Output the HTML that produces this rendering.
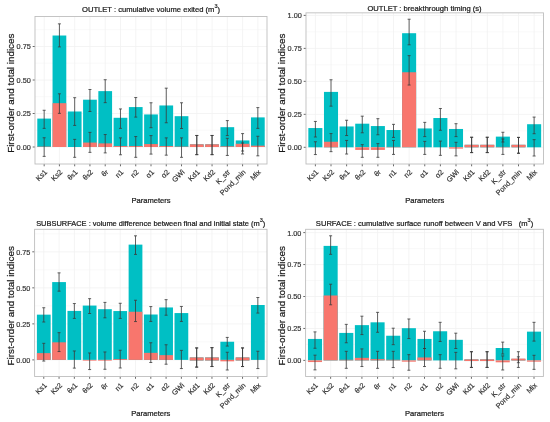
<!DOCTYPE html>
<html><head><meta charset="utf-8"><style>
html,body{margin:0;padding:0;background:#fff;}
svg{display:block;will-change:transform;}
text{font-family:"Liberation Sans",sans-serif;fill:#4d4d4d;stroke-linejoin:round;}
.tk{font-size:7.3px;fill:#333;stroke:#333;stroke-width:0.18px;}
.ti{font-size:7.6px;fill:#1a1a1a;stroke:#1a1a1a;stroke-width:0.22px;}
.sup{font-size:5.5px;}
.xt{font-size:7.6px;fill:#1a1a1a;stroke:#1a1a1a;stroke-width:0.22px;}
.yt{font-size:9.85px;fill:#1a1a1a;stroke:#1a1a1a;stroke-width:0.22px;}
</style></head><body>
<svg width="550" height="422" viewBox="0 0 550 422">
<rect width="550" height="422" fill="#fff"/>
<line x1="35" x2="267" y1="130.25" y2="130.25" stroke="#f5f5f5" stroke-width="0.6"/><line x1="35" x2="267" y1="96.75" y2="96.75" stroke="#f5f5f5" stroke-width="0.6"/><line x1="35" x2="267" y1="63.25" y2="63.25" stroke="#f5f5f5" stroke-width="0.6"/><line x1="35" x2="267" y1="29.75" y2="29.75" stroke="#f5f5f5" stroke-width="0.6"/><line x1="35" x2="267" y1="147" y2="147" stroke="#f1f1f1" stroke-width="0.8"/><line x1="35" x2="267" y1="113.5" y2="113.5" stroke="#f1f1f1" stroke-width="0.8"/><line x1="35" x2="267" y1="80" y2="80" stroke="#f1f1f1" stroke-width="0.8"/><line x1="35" x2="267" y1="46.5" y2="46.5" stroke="#f1f1f1" stroke-width="0.8"/><line x1="44.16" x2="44.16" y1="16.5" y2="164" stroke="#f1f1f1" stroke-width="0.8"/><line x1="59.42" x2="59.42" y1="16.5" y2="164" stroke="#f1f1f1" stroke-width="0.8"/><line x1="74.68" x2="74.68" y1="16.5" y2="164" stroke="#f1f1f1" stroke-width="0.8"/><line x1="89.95" x2="89.95" y1="16.5" y2="164" stroke="#f1f1f1" stroke-width="0.8"/><line x1="105.21" x2="105.21" y1="16.5" y2="164" stroke="#f1f1f1" stroke-width="0.8"/><line x1="120.47" x2="120.47" y1="16.5" y2="164" stroke="#f1f1f1" stroke-width="0.8"/><line x1="135.74" x2="135.74" y1="16.5" y2="164" stroke="#f1f1f1" stroke-width="0.8"/><line x1="151" x2="151" y1="16.5" y2="164" stroke="#f1f1f1" stroke-width="0.8"/><line x1="166.26" x2="166.26" y1="16.5" y2="164" stroke="#f1f1f1" stroke-width="0.8"/><line x1="181.53" x2="181.53" y1="16.5" y2="164" stroke="#f1f1f1" stroke-width="0.8"/><line x1="196.79" x2="196.79" y1="16.5" y2="164" stroke="#f1f1f1" stroke-width="0.8"/><line x1="212.05" x2="212.05" y1="16.5" y2="164" stroke="#f1f1f1" stroke-width="0.8"/><line x1="227.32" x2="227.32" y1="16.5" y2="164" stroke="#f1f1f1" stroke-width="0.8"/><line x1="242.58" x2="242.58" y1="16.5" y2="164" stroke="#f1f1f1" stroke-width="0.8"/><line x1="257.84" x2="257.84" y1="16.5" y2="164" stroke="#f1f1f1" stroke-width="0.8"/><rect x="37.29" y="118.59" width="13.74" height="28.41" fill="#00BFC4"/><rect x="52.55" y="35.51" width="13.74" height="111.49" fill="#00BFC4"/><rect x="67.82" y="111.49" width="13.74" height="35.51" fill="#00BFC4"/><rect x="83.08" y="99.7" width="13.74" height="47.3" fill="#00BFC4"/><rect x="98.34" y="91.12" width="13.74" height="55.88" fill="#00BFC4"/><rect x="113.61" y="117.79" width="13.74" height="29.21" fill="#00BFC4"/><rect x="128.87" y="107.07" width="13.74" height="39.93" fill="#00BFC4"/><rect x="144.13" y="114.44" width="13.74" height="32.56" fill="#00BFC4"/><rect x="159.39" y="105.46" width="13.74" height="41.54" fill="#00BFC4"/><rect x="174.66" y="116.18" width="13.74" height="30.82" fill="#00BFC4"/><rect x="189.92" y="144.32" width="13.74" height="2.68" fill="#00BFC4"/><rect x="205.18" y="144.32" width="13.74" height="2.68" fill="#00BFC4"/><rect x="220.45" y="127.17" width="13.74" height="19.83" fill="#00BFC4"/><rect x="235.71" y="140.43" width="13.74" height="6.57" fill="#00BFC4"/><rect x="250.97" y="117.39" width="13.74" height="29.61" fill="#00BFC4"/><rect x="37.29" y="146.6" width="13.74" height="0.4" fill="#F8766D"/><rect x="52.55" y="103.18" width="13.74" height="43.82" fill="#F8766D"/><rect x="83.08" y="142.58" width="13.74" height="4.42" fill="#F8766D"/><rect x="98.34" y="143.38" width="13.74" height="3.62" fill="#F8766D"/><rect x="113.61" y="146.06" width="13.74" height="0.94" fill="#F8766D"/><rect x="128.87" y="146.06" width="13.74" height="0.94" fill="#F8766D"/><rect x="144.13" y="144.05" width="13.74" height="2.95" fill="#F8766D"/><rect x="159.39" y="146.06" width="13.74" height="0.94" fill="#F8766D"/><rect x="174.66" y="146.6" width="13.74" height="0.4" fill="#F8766D"/><rect x="189.92" y="144.32" width="13.74" height="2.68" fill="#F8766D"/><rect x="205.18" y="144.32" width="13.74" height="2.68" fill="#F8766D"/><rect x="220.45" y="146.33" width="13.74" height="0.67" fill="#F8766D"/><rect x="235.71" y="143.78" width="13.74" height="3.22" fill="#F8766D"/><rect x="250.97" y="145.66" width="13.74" height="1.34" fill="#F8766D"/><line x1="32.7" x2="35" y1="147" y2="147" stroke="#444" stroke-width="0.8"/><line x1="32.7" x2="35" y1="113.5" y2="113.5" stroke="#444" stroke-width="0.8"/><line x1="32.7" x2="35" y1="80" y2="80" stroke="#444" stroke-width="0.8"/><line x1="32.7" x2="35" y1="46.5" y2="46.5" stroke="#444" stroke-width="0.8"/><line x1="44.16" x2="44.16" y1="164" y2="166.3" stroke="#444" stroke-width="0.8"/><line x1="59.42" x2="59.42" y1="164" y2="166.3" stroke="#444" stroke-width="0.8"/><line x1="74.68" x2="74.68" y1="164" y2="166.3" stroke="#444" stroke-width="0.8"/><line x1="89.95" x2="89.95" y1="164" y2="166.3" stroke="#444" stroke-width="0.8"/><line x1="105.21" x2="105.21" y1="164" y2="166.3" stroke="#444" stroke-width="0.8"/><line x1="120.47" x2="120.47" y1="164" y2="166.3" stroke="#444" stroke-width="0.8"/><line x1="135.74" x2="135.74" y1="164" y2="166.3" stroke="#444" stroke-width="0.8"/><line x1="151" x2="151" y1="164" y2="166.3" stroke="#444" stroke-width="0.8"/><line x1="166.26" x2="166.26" y1="164" y2="166.3" stroke="#444" stroke-width="0.8"/><line x1="181.53" x2="181.53" y1="164" y2="166.3" stroke="#444" stroke-width="0.8"/><line x1="196.79" x2="196.79" y1="164" y2="166.3" stroke="#444" stroke-width="0.8"/><line x1="212.05" x2="212.05" y1="164" y2="166.3" stroke="#444" stroke-width="0.8"/><line x1="227.32" x2="227.32" y1="164" y2="166.3" stroke="#444" stroke-width="0.8"/><line x1="242.58" x2="242.58" y1="164" y2="166.3" stroke="#444" stroke-width="0.8"/><line x1="257.84" x2="257.84" y1="164" y2="166.3" stroke="#444" stroke-width="0.8"/><g stroke="#3a3a3a" stroke-width="0.8"><path d="M42.66 110.28H45.66M44.16 110.28V128.37M42.66 128.37H45.66"/><path d="M42.66 137.75H45.66M44.16 137.75V156.38M42.66 156.38H45.66"/><path d="M57.92 23.85H60.92M59.42 23.85V46.9M57.92 46.9H60.92"/><path d="M57.92 93.8H60.92M59.42 93.8V113.37M57.92 113.37H60.92"/><path d="M73.18 97.69H76.18M74.68 97.69V125.43M73.18 125.43H76.18"/><path d="M73.18 139.36H76.18M74.68 139.36V157.32M73.18 157.32H76.18"/><path d="M88.45 89.51H91.45M89.95 89.51V111.49M88.45 111.49H91.45"/><path d="M88.45 132.39H91.45M89.95 132.39V152.36M88.45 152.36H91.45"/><path d="M103.71 79.73H106.71M105.21 79.73V102.65M103.71 102.65H106.71"/><path d="M103.71 134.54H106.71M105.21 134.54V152.9M103.71 152.9H106.71"/><path d="M118.97 108.94H121.97M120.47 108.94V128.37M118.97 128.37H121.97"/><path d="M118.97 137.89H121.97M120.47 137.89V154.77M118.97 154.77H121.97"/><path d="M134.24 97.55H137.24M135.74 97.55V117.12M134.24 117.12H137.24"/><path d="M134.24 136.55H137.24M135.74 136.55V157.32M134.24 157.32H137.24"/><path d="M149.5 102.78H152.5M151 102.78V127.7M149.5 127.7H152.5"/><path d="M149.5 135.61H152.5M151 135.61V154.1M149.5 154.1H152.5"/><path d="M164.76 88.17H167.76M166.26 88.17V122.75M164.76 122.75H167.76"/><path d="M164.76 137.89H167.76M166.26 137.89V155.17M164.76 155.17H167.76"/><path d="M180.03 102.78H183.03M181.53 102.78V128.51M180.03 128.51H183.03"/><path d="M180.03 137.89H183.03M181.53 137.89V157.32M180.03 157.32H183.03"/><path d="M195.29 135.48H198.29M196.79 135.48V154.64M195.29 154.64H198.29"/><path d="M195.29 135.48H198.29M196.79 135.48V154.64M195.29 154.64H198.29"/><path d="M210.55 135.48H213.55M212.05 135.48V154.64M210.55 154.64H213.55"/><path d="M210.55 135.48H213.55M212.05 135.48V154.64M210.55 154.64H213.55"/><path d="M225.82 120.6H228.82M227.32 120.6V135.61M225.82 135.61H228.82"/><path d="M225.82 138.29H228.82M227.32 138.29V155.44M225.82 155.44H228.82"/><path d="M241.08 133.6H244.08M242.58 133.6V151.02M241.08 151.02H244.08"/><path d="M241.08 142.98H244.08M242.58 142.98V153.97M241.08 153.97H244.08"/><path d="M256.34 107.6H259.34M257.84 107.6V128.37M256.34 128.37H259.34"/><path d="M256.34 136.28H259.34M257.84 136.28V155.84M256.34 155.84H259.34"/></g><rect x="35" y="16.5" width="232" height="147.5" fill="none" stroke="#bebebe" stroke-width="0.9"/><text class="tk" x="30.8" y="149.9" text-anchor="end">0.00</text><text class="tk" x="30.8" y="116.4" text-anchor="end">0.25</text><text class="tk" x="30.8" y="82.9" text-anchor="end">0.50</text><text class="tk" x="30.8" y="49.4" text-anchor="end">0.75</text><text class="tk" text-anchor="end" transform="translate(47.66 172.6) rotate(-45)">Ks1</text><text class="tk" text-anchor="end" transform="translate(62.92 172.6) rotate(-45)">Ks2</text><text class="tk" text-anchor="end" transform="translate(78.18 172.6) rotate(-45)">θ<tspan style="font-size:6.2px">s</tspan>1</text><text class="tk" text-anchor="end" transform="translate(93.45 172.6) rotate(-45)">θ<tspan style="font-size:6.2px">s</tspan>2</text><text class="tk" text-anchor="end" transform="translate(108.71 172.6) rotate(-45)">θ<tspan style="font-size:6.6px">r</tspan></text><text class="tk" text-anchor="end" transform="translate(123.97 172.6) rotate(-45)">n1</text><text class="tk" text-anchor="end" transform="translate(139.24 172.6) rotate(-45)">n2</text><text class="tk" text-anchor="end" transform="translate(154.5 172.6) rotate(-45)">α1</text><text class="tk" text-anchor="end" transform="translate(169.76 172.6) rotate(-45)">α2</text><text class="tk" text-anchor="end" transform="translate(185.03 172.6) rotate(-45)">GWi</text><text class="tk" text-anchor="end" transform="translate(200.29 172.6) rotate(-45)">Kd1</text><text class="tk" text-anchor="end" transform="translate(215.55 172.6) rotate(-45)">Kd2</text><text class="tk" text-anchor="end" transform="translate(230.82 172.6) rotate(-45)">K_str</text><text class="tk" text-anchor="end" transform="translate(246.08 172.6) rotate(-45)">Pond_min</text><text class="tk" text-anchor="end" transform="translate(261.34 172.6) rotate(-45)">Mix</text><text class="ti" x="151" y="12.1" text-anchor="middle" style="font-size:7.6px">OUTLET : cumulative volume exited (m<tspan class="sup" dy="-4">3</tspan><tspan dy="4">)</tspan></text><text class="xt" x="151" y="203.3" text-anchor="middle">Parameters</text><text class="yt" text-anchor="middle" transform="translate(13.8 93.2) rotate(-90)">First-order and total indices</text><line x1="306" x2="543.5" y1="130.81" y2="130.81" stroke="#f5f5f5" stroke-width="0.6"/><line x1="306" x2="543.5" y1="97.84" y2="97.84" stroke="#f5f5f5" stroke-width="0.6"/><line x1="306" x2="543.5" y1="64.86" y2="64.86" stroke="#f5f5f5" stroke-width="0.6"/><line x1="306" x2="543.5" y1="31.89" y2="31.89" stroke="#f5f5f5" stroke-width="0.6"/><line x1="306" x2="543.5" y1="147.3" y2="147.3" stroke="#f1f1f1" stroke-width="0.8"/><line x1="306" x2="543.5" y1="114.33" y2="114.33" stroke="#f1f1f1" stroke-width="0.8"/><line x1="306" x2="543.5" y1="81.35" y2="81.35" stroke="#f1f1f1" stroke-width="0.8"/><line x1="306" x2="543.5" y1="48.38" y2="48.38" stroke="#f1f1f1" stroke-width="0.8"/><line x1="306" x2="543.5" y1="15.4" y2="15.4" stroke="#f1f1f1" stroke-width="0.8"/><line x1="315.38" x2="315.38" y1="12.85" y2="164" stroke="#f1f1f1" stroke-width="0.8"/><line x1="331" x2="331" y1="12.85" y2="164" stroke="#f1f1f1" stroke-width="0.8"/><line x1="346.62" x2="346.62" y1="12.85" y2="164" stroke="#f1f1f1" stroke-width="0.8"/><line x1="362.25" x2="362.25" y1="12.85" y2="164" stroke="#f1f1f1" stroke-width="0.8"/><line x1="377.88" x2="377.88" y1="12.85" y2="164" stroke="#f1f1f1" stroke-width="0.8"/><line x1="393.5" x2="393.5" y1="12.85" y2="164" stroke="#f1f1f1" stroke-width="0.8"/><line x1="409.12" x2="409.12" y1="12.85" y2="164" stroke="#f1f1f1" stroke-width="0.8"/><line x1="424.75" x2="424.75" y1="12.85" y2="164" stroke="#f1f1f1" stroke-width="0.8"/><line x1="440.38" x2="440.38" y1="12.85" y2="164" stroke="#f1f1f1" stroke-width="0.8"/><line x1="456" x2="456" y1="12.85" y2="164" stroke="#f1f1f1" stroke-width="0.8"/><line x1="471.62" x2="471.62" y1="12.85" y2="164" stroke="#f1f1f1" stroke-width="0.8"/><line x1="487.25" x2="487.25" y1="12.85" y2="164" stroke="#f1f1f1" stroke-width="0.8"/><line x1="502.88" x2="502.88" y1="12.85" y2="164" stroke="#f1f1f1" stroke-width="0.8"/><line x1="518.5" x2="518.5" y1="12.85" y2="164" stroke="#f1f1f1" stroke-width="0.8"/><line x1="534.12" x2="534.12" y1="12.85" y2="164" stroke="#f1f1f1" stroke-width="0.8"/><rect x="308.34" y="128.04" width="14.06" height="19.26" fill="#00BFC4"/><rect x="323.97" y="91.9" width="14.06" height="55.4" fill="#00BFC4"/><rect x="339.59" y="126.46" width="14.06" height="20.84" fill="#00BFC4"/><rect x="355.22" y="123.69" width="14.06" height="23.61" fill="#00BFC4"/><rect x="370.84" y="126.06" width="14.06" height="21.24" fill="#00BFC4"/><rect x="386.47" y="130.02" width="14.06" height="17.28" fill="#00BFC4"/><rect x="402.09" y="33.21" width="14.06" height="114.09" fill="#00BFC4"/><rect x="417.72" y="128.44" width="14.06" height="18.86" fill="#00BFC4"/><rect x="433.34" y="118.02" width="14.06" height="29.28" fill="#00BFC4"/><rect x="448.97" y="128.97" width="14.06" height="18.33" fill="#00BFC4"/><rect x="464.59" y="144.79" width="14.06" height="2.51" fill="#00BFC4"/><rect x="480.22" y="144.79" width="14.06" height="2.51" fill="#00BFC4"/><rect x="495.84" y="136.62" width="14.06" height="10.68" fill="#00BFC4"/><rect x="511.47" y="144.79" width="14.06" height="2.51" fill="#00BFC4"/><rect x="527.09" y="124.22" width="14.06" height="23.08" fill="#00BFC4"/><rect x="323.97" y="141.76" width="14.06" height="5.54" fill="#F8766D"/><rect x="355.22" y="147.3" width="14.06" height="2.64" fill="#F8766D"/><rect x="370.84" y="147.3" width="14.06" height="2.64" fill="#F8766D"/><rect x="386.47" y="146.9" width="14.06" height="0.4" fill="#F8766D"/><rect x="402.09" y="72.25" width="14.06" height="75.05" fill="#F8766D"/><rect x="448.97" y="147.3" width="14.06" height="1.32" fill="#F8766D"/><rect x="464.59" y="144.79" width="14.06" height="2.51" fill="#F8766D"/><rect x="480.22" y="144.79" width="14.06" height="2.51" fill="#F8766D"/><rect x="495.84" y="146.9" width="14.06" height="0.4" fill="#F8766D"/><rect x="511.47" y="144.79" width="14.06" height="2.51" fill="#F8766D"/><line x1="303.7" x2="306" y1="147.3" y2="147.3" stroke="#444" stroke-width="0.8"/><line x1="303.7" x2="306" y1="114.33" y2="114.33" stroke="#444" stroke-width="0.8"/><line x1="303.7" x2="306" y1="81.35" y2="81.35" stroke="#444" stroke-width="0.8"/><line x1="303.7" x2="306" y1="48.38" y2="48.38" stroke="#444" stroke-width="0.8"/><line x1="303.7" x2="306" y1="15.4" y2="15.4" stroke="#444" stroke-width="0.8"/><line x1="315.38" x2="315.38" y1="164" y2="166.3" stroke="#444" stroke-width="0.8"/><line x1="331" x2="331" y1="164" y2="166.3" stroke="#444" stroke-width="0.8"/><line x1="346.62" x2="346.62" y1="164" y2="166.3" stroke="#444" stroke-width="0.8"/><line x1="362.25" x2="362.25" y1="164" y2="166.3" stroke="#444" stroke-width="0.8"/><line x1="377.88" x2="377.88" y1="164" y2="166.3" stroke="#444" stroke-width="0.8"/><line x1="393.5" x2="393.5" y1="164" y2="166.3" stroke="#444" stroke-width="0.8"/><line x1="409.12" x2="409.12" y1="164" y2="166.3" stroke="#444" stroke-width="0.8"/><line x1="424.75" x2="424.75" y1="164" y2="166.3" stroke="#444" stroke-width="0.8"/><line x1="440.38" x2="440.38" y1="164" y2="166.3" stroke="#444" stroke-width="0.8"/><line x1="456" x2="456" y1="164" y2="166.3" stroke="#444" stroke-width="0.8"/><line x1="471.62" x2="471.62" y1="164" y2="166.3" stroke="#444" stroke-width="0.8"/><line x1="487.25" x2="487.25" y1="164" y2="166.3" stroke="#444" stroke-width="0.8"/><line x1="502.88" x2="502.88" y1="164" y2="166.3" stroke="#444" stroke-width="0.8"/><line x1="518.5" x2="518.5" y1="164" y2="166.3" stroke="#444" stroke-width="0.8"/><line x1="534.12" x2="534.12" y1="164" y2="166.3" stroke="#444" stroke-width="0.8"/><g stroke="#3a3a3a" stroke-width="0.8"><path d="M313.88 121.45H316.88M315.38 121.45V137.01M313.88 137.01H316.88"/><path d="M313.88 141.76H316.88M315.38 141.76V154.55M313.88 154.55H316.88"/><path d="M329.5 79.77H332.5M331 79.77V106.15M329.5 106.15H332.5"/><path d="M329.5 133.58H332.5M331 133.58V151.65M329.5 151.65H332.5"/><path d="M345.12 120.26H348.12M346.62 120.26V135.56M345.12 135.56H348.12"/><path d="M345.12 140.44H348.12M346.62 140.44V154.03M345.12 154.03H348.12"/><path d="M360.75 116.17H363.75M362.25 116.17V132.79M360.75 132.79H363.75"/><path d="M360.75 144.66H363.75M362.25 144.66V157.32M360.75 157.32H363.75"/><path d="M376.38 118.68H379.38M377.88 118.68V134.77M376.38 134.77H379.38"/><path d="M376.38 143.61H379.38M377.88 143.61V157.32M376.38 157.32H379.38"/><path d="M392 124.35H395M393.5 124.35V137.41M392 137.41H395"/><path d="M392 140.44H395M393.5 140.44V154.42M392 154.42H395"/><path d="M407.62 19.23H410.62M409.12 19.23V44.81M407.62 44.81H410.62"/><path d="M407.62 55.63H410.62M409.12 55.63V85.04M407.62 85.04H410.62"/><path d="M423.25 122.37H426.25M424.75 122.37V136.62M423.25 136.62H426.25"/><path d="M423.25 141.36H426.25M424.75 141.36V154.42M423.25 154.42H426.25"/><path d="M438.88 108.52H441.88M440.38 108.52V130.28M438.88 130.28H441.88"/><path d="M438.88 141.1H441.88M440.38 141.1V155.35M438.88 155.35H441.88"/><path d="M454.5 123.69H457.5M456 123.69V136.62M454.5 136.62H457.5"/><path d="M454.5 142.29H457.5M456 142.29V155.87M454.5 155.87H457.5"/><path d="M470.12 137.28H473.12M471.62 137.28V152.58M470.12 152.58H473.12"/><path d="M470.12 137.28H473.12M471.62 137.28V152.58M470.12 152.58H473.12"/><path d="M485.75 137.28H488.75M487.25 137.28V152.58M485.75 152.58H488.75"/><path d="M485.75 137.28H488.75M487.25 137.28V152.58M485.75 152.58H488.75"/><path d="M501.38 132.26H504.38M502.88 132.26V142.02M501.38 142.02H504.38"/><path d="M501.38 138.99H504.38M502.88 138.99V154.42M501.38 154.42H504.38"/><path d="M517 137.41H520M518.5 137.41V153.24M517 153.24H520"/><path d="M517 137.41H520M518.5 137.41V153.24M517 153.24H520"/><path d="M532.62 117.09H535.62M534.12 117.09V133.71M532.62 133.71H535.62"/><path d="M532.62 139.65H535.62M534.12 139.65V156.01M532.62 156.01H535.62"/></g><rect x="306" y="12.85" width="237.5" height="151.15" fill="none" stroke="#bebebe" stroke-width="0.9"/><text class="tk" x="301.8" y="150.2" text-anchor="end">0.00</text><text class="tk" x="301.8" y="117.23" text-anchor="end">0.25</text><text class="tk" x="301.8" y="84.25" text-anchor="end">0.50</text><text class="tk" x="301.8" y="51.27" text-anchor="end">0.75</text><text class="tk" x="301.8" y="18.3" text-anchor="end">1.00</text><text class="tk" text-anchor="end" transform="translate(318.88 172.6) rotate(-45)">Ks1</text><text class="tk" text-anchor="end" transform="translate(334.5 172.6) rotate(-45)">Ks2</text><text class="tk" text-anchor="end" transform="translate(350.12 172.6) rotate(-45)">θ<tspan style="font-size:6.2px">s</tspan>1</text><text class="tk" text-anchor="end" transform="translate(365.75 172.6) rotate(-45)">θ<tspan style="font-size:6.2px">s</tspan>2</text><text class="tk" text-anchor="end" transform="translate(381.38 172.6) rotate(-45)">θ<tspan style="font-size:6.6px">r</tspan></text><text class="tk" text-anchor="end" transform="translate(397 172.6) rotate(-45)">n1</text><text class="tk" text-anchor="end" transform="translate(412.62 172.6) rotate(-45)">n2</text><text class="tk" text-anchor="end" transform="translate(428.25 172.6) rotate(-45)">α1</text><text class="tk" text-anchor="end" transform="translate(443.88 172.6) rotate(-45)">α2</text><text class="tk" text-anchor="end" transform="translate(459.5 172.6) rotate(-45)">GWi</text><text class="tk" text-anchor="end" transform="translate(475.12 172.6) rotate(-45)">Kd1</text><text class="tk" text-anchor="end" transform="translate(490.75 172.6) rotate(-45)">Kd2</text><text class="tk" text-anchor="end" transform="translate(506.38 172.6) rotate(-45)">K_str</text><text class="tk" text-anchor="end" transform="translate(522 172.6) rotate(-45)">Pond_min</text><text class="tk" text-anchor="end" transform="translate(537.62 172.6) rotate(-45)">Mix</text><text class="ti" x="424.5" y="10.9" text-anchor="middle" style="font-size:7.6px">OUTLET : breakthrough timing (s)</text><text class="xt" x="424.75" y="203.3" text-anchor="middle">Parameters</text><text class="yt" text-anchor="middle" transform="translate(284.8 93.2) rotate(-90)">First-order and total indices</text><line x1="34.6" x2="267" y1="341.89" y2="341.89" stroke="#f5f5f5" stroke-width="0.6"/><line x1="34.6" x2="267" y1="305.86" y2="305.86" stroke="#f5f5f5" stroke-width="0.6"/><line x1="34.6" x2="267" y1="269.84" y2="269.84" stroke="#f5f5f5" stroke-width="0.6"/><line x1="34.6" x2="267" y1="233.81" y2="233.81" stroke="#f5f5f5" stroke-width="0.6"/><line x1="34.6" x2="267" y1="359.9" y2="359.9" stroke="#f1f1f1" stroke-width="0.8"/><line x1="34.6" x2="267" y1="323.88" y2="323.88" stroke="#f1f1f1" stroke-width="0.8"/><line x1="34.6" x2="267" y1="287.85" y2="287.85" stroke="#f1f1f1" stroke-width="0.8"/><line x1="34.6" x2="267" y1="251.82" y2="251.82" stroke="#f1f1f1" stroke-width="0.8"/><line x1="43.77" x2="43.77" y1="229.3" y2="376.5" stroke="#f1f1f1" stroke-width="0.8"/><line x1="59.06" x2="59.06" y1="229.3" y2="376.5" stroke="#f1f1f1" stroke-width="0.8"/><line x1="74.35" x2="74.35" y1="229.3" y2="376.5" stroke="#f1f1f1" stroke-width="0.8"/><line x1="89.64" x2="89.64" y1="229.3" y2="376.5" stroke="#f1f1f1" stroke-width="0.8"/><line x1="104.93" x2="104.93" y1="229.3" y2="376.5" stroke="#f1f1f1" stroke-width="0.8"/><line x1="120.22" x2="120.22" y1="229.3" y2="376.5" stroke="#f1f1f1" stroke-width="0.8"/><line x1="135.51" x2="135.51" y1="229.3" y2="376.5" stroke="#f1f1f1" stroke-width="0.8"/><line x1="150.8" x2="150.8" y1="229.3" y2="376.5" stroke="#f1f1f1" stroke-width="0.8"/><line x1="166.09" x2="166.09" y1="229.3" y2="376.5" stroke="#f1f1f1" stroke-width="0.8"/><line x1="181.38" x2="181.38" y1="229.3" y2="376.5" stroke="#f1f1f1" stroke-width="0.8"/><line x1="196.67" x2="196.67" y1="229.3" y2="376.5" stroke="#f1f1f1" stroke-width="0.8"/><line x1="211.96" x2="211.96" y1="229.3" y2="376.5" stroke="#f1f1f1" stroke-width="0.8"/><line x1="227.25" x2="227.25" y1="229.3" y2="376.5" stroke="#f1f1f1" stroke-width="0.8"/><line x1="242.54" x2="242.54" y1="229.3" y2="376.5" stroke="#f1f1f1" stroke-width="0.8"/><line x1="257.83" x2="257.83" y1="229.3" y2="376.5" stroke="#f1f1f1" stroke-width="0.8"/><rect x="36.89" y="314.65" width="13.76" height="45.25" fill="#00BFC4"/><rect x="52.18" y="282.09" width="13.76" height="77.81" fill="#00BFC4"/><rect x="67.47" y="310.91" width="13.76" height="48.99" fill="#00BFC4"/><rect x="82.76" y="305.57" width="13.76" height="54.33" fill="#00BFC4"/><rect x="98.05" y="309.18" width="13.76" height="50.72" fill="#00BFC4"/><rect x="113.34" y="311.05" width="13.76" height="48.85" fill="#00BFC4"/><rect x="128.63" y="244.62" width="13.76" height="115.28" fill="#00BFC4"/><rect x="143.92" y="314.51" width="13.76" height="45.39" fill="#00BFC4"/><rect x="159.21" y="307.45" width="13.76" height="52.45" fill="#00BFC4"/><rect x="174.5" y="313.07" width="13.76" height="46.83" fill="#00BFC4"/><rect x="189.79" y="357.45" width="13.76" height="3.03" fill="#00BFC4"/><rect x="205.08" y="357.45" width="13.76" height="3.03" fill="#00BFC4"/><rect x="220.37" y="341.74" width="13.76" height="18.16" fill="#00BFC4"/><rect x="235.66" y="357.45" width="13.76" height="3.03" fill="#00BFC4"/><rect x="250.95" y="305" width="13.76" height="54.9" fill="#00BFC4"/><rect x="36.89" y="353.13" width="13.76" height="6.77" fill="#F8766D"/><rect x="52.18" y="342.32" width="13.76" height="17.58" fill="#F8766D"/><rect x="82.76" y="359.9" width="13.76" height="0.72" fill="#F8766D"/><rect x="98.05" y="359.9" width="13.76" height="0.72" fill="#F8766D"/><rect x="113.34" y="359.04" width="13.76" height="0.86" fill="#F8766D"/><rect x="128.63" y="311.77" width="13.76" height="48.13" fill="#F8766D"/><rect x="143.92" y="352.84" width="13.76" height="7.06" fill="#F8766D"/><rect x="159.21" y="355.14" width="13.76" height="4.76" fill="#F8766D"/><rect x="189.79" y="357.45" width="13.76" height="3.03" fill="#F8766D"/><rect x="205.08" y="357.45" width="13.76" height="3.03" fill="#F8766D"/><rect x="220.37" y="359.9" width="13.76" height="1.44" fill="#F8766D"/><rect x="235.66" y="357.45" width="13.76" height="3.03" fill="#F8766D"/><line x1="32.3" x2="34.6" y1="359.9" y2="359.9" stroke="#444" stroke-width="0.8"/><line x1="32.3" x2="34.6" y1="323.88" y2="323.88" stroke="#444" stroke-width="0.8"/><line x1="32.3" x2="34.6" y1="287.85" y2="287.85" stroke="#444" stroke-width="0.8"/><line x1="32.3" x2="34.6" y1="251.82" y2="251.82" stroke="#444" stroke-width="0.8"/><line x1="43.77" x2="43.77" y1="376.5" y2="378.8" stroke="#444" stroke-width="0.8"/><line x1="59.06" x2="59.06" y1="376.5" y2="378.8" stroke="#444" stroke-width="0.8"/><line x1="74.35" x2="74.35" y1="376.5" y2="378.8" stroke="#444" stroke-width="0.8"/><line x1="89.64" x2="89.64" y1="376.5" y2="378.8" stroke="#444" stroke-width="0.8"/><line x1="104.93" x2="104.93" y1="376.5" y2="378.8" stroke="#444" stroke-width="0.8"/><line x1="120.22" x2="120.22" y1="376.5" y2="378.8" stroke="#444" stroke-width="0.8"/><line x1="135.51" x2="135.51" y1="376.5" y2="378.8" stroke="#444" stroke-width="0.8"/><line x1="150.8" x2="150.8" y1="376.5" y2="378.8" stroke="#444" stroke-width="0.8"/><line x1="166.09" x2="166.09" y1="376.5" y2="378.8" stroke="#444" stroke-width="0.8"/><line x1="181.38" x2="181.38" y1="376.5" y2="378.8" stroke="#444" stroke-width="0.8"/><line x1="196.67" x2="196.67" y1="376.5" y2="378.8" stroke="#444" stroke-width="0.8"/><line x1="211.96" x2="211.96" y1="376.5" y2="378.8" stroke="#444" stroke-width="0.8"/><line x1="227.25" x2="227.25" y1="376.5" y2="378.8" stroke="#444" stroke-width="0.8"/><line x1="242.54" x2="242.54" y1="376.5" y2="378.8" stroke="#444" stroke-width="0.8"/><line x1="257.83" x2="257.83" y1="376.5" y2="378.8" stroke="#444" stroke-width="0.8"/><g stroke="#3a3a3a" stroke-width="0.8"><path d="M42.27 307.74H45.27M43.77 307.74V322M42.27 322H45.27"/><path d="M42.27 343.33H45.27M43.77 343.33V361.05M42.27 361.05H45.27"/><path d="M57.56 272.86H60.56M59.06 272.86V291.16M57.56 291.16H60.56"/><path d="M57.56 332.67H60.56M59.06 332.67V351.54M57.56 351.54H60.56"/><path d="M72.85 303.56H75.85M74.35 303.56V318.4M72.85 318.4H75.85"/><path d="M72.85 350.97H75.85M74.35 350.97V368.11M72.85 368.11H75.85"/><path d="M88.14 298.66H91.14M89.64 298.66V313.5M88.14 313.5H91.14"/><path d="M88.14 352.98H91.14M89.64 352.98V369.55M88.14 369.55H91.14"/><path d="M103.43 302.4H106.43M104.93 302.4V317.82M103.43 317.82H106.43"/><path d="M103.43 351.97H106.43M104.93 351.97V369.27M103.43 369.27H106.43"/><path d="M118.72 303.27H121.72M120.22 303.27V318.4M118.72 318.4H121.72"/><path d="M118.72 350.25H121.72M120.22 350.25V367.97M118.72 367.97H121.72"/><path d="M134.01 235.83H137.01M135.51 235.83V254.42M134.01 254.42H137.01"/><path d="M134.01 300.24H137.01M135.51 300.24V321.57M134.01 321.57H137.01"/><path d="M149.3 306.58H152.3M150.8 306.58V321.43M149.3 321.43H152.3"/><path d="M149.3 342.75H152.3M150.8 342.75V362.49M149.3 362.49H152.3"/><path d="M164.59 299.67H167.59M166.09 299.67V315.23M164.59 315.23H167.59"/><path d="M164.59 344.77H167.59M166.09 344.77V364.22M164.59 364.22H167.59"/><path d="M179.88 306.44H182.88M181.38 306.44V321.43M179.88 321.43H182.88"/><path d="M179.88 350.39H182.88M181.38 350.39V368.55M179.88 368.55H182.88"/><path d="M195.17 347.94H198.17M196.67 347.94V367.1M195.17 367.1H198.17"/><path d="M195.17 347.94H198.17M196.67 347.94V367.1M195.17 367.1H198.17"/><path d="M210.46 347.65H213.46M211.96 347.65V366.53M210.46 366.53H213.46"/><path d="M210.46 347.65H213.46M211.96 347.65V366.53M210.46 366.53H213.46"/><path d="M225.75 337.42H228.75M227.25 337.42V346.07M225.75 346.07H228.75"/><path d="M225.75 352.26H228.75M227.25 352.26V369.99M225.75 369.99H228.75"/><path d="M241.04 347.94H244.04M242.54 347.94V366.53M241.04 366.53H244.04"/><path d="M241.04 347.94H244.04M242.54 347.94V366.53M241.04 366.53H244.04"/><path d="M256.33 297.5H259.33M257.83 297.5V313.07M256.33 313.07H259.33"/><path d="M256.33 351.25H259.33M257.83 351.25V368.55M256.33 368.55H259.33"/></g><rect x="34.6" y="229.3" width="232.4" height="147.2" fill="none" stroke="#bebebe" stroke-width="0.9"/><text class="tk" x="30.4" y="362.8" text-anchor="end">0.00</text><text class="tk" x="30.4" y="326.77" text-anchor="end">0.25</text><text class="tk" x="30.4" y="290.75" text-anchor="end">0.50</text><text class="tk" x="30.4" y="254.72" text-anchor="end">0.75</text><text class="tk" text-anchor="end" transform="translate(47.27 385.8) rotate(-45)">Ks1</text><text class="tk" text-anchor="end" transform="translate(62.56 385.8) rotate(-45)">Ks2</text><text class="tk" text-anchor="end" transform="translate(77.85 385.8) rotate(-45)">θ<tspan style="font-size:6.2px">s</tspan>1</text><text class="tk" text-anchor="end" transform="translate(93.14 385.8) rotate(-45)">θ<tspan style="font-size:6.2px">s</tspan>2</text><text class="tk" text-anchor="end" transform="translate(108.43 385.8) rotate(-45)">θ<tspan style="font-size:6.6px">r</tspan></text><text class="tk" text-anchor="end" transform="translate(123.72 385.8) rotate(-45)">n1</text><text class="tk" text-anchor="end" transform="translate(139.01 385.8) rotate(-45)">n2</text><text class="tk" text-anchor="end" transform="translate(154.3 385.8) rotate(-45)">α1</text><text class="tk" text-anchor="end" transform="translate(169.59 385.8) rotate(-45)">α2</text><text class="tk" text-anchor="end" transform="translate(184.88 385.8) rotate(-45)">GWi</text><text class="tk" text-anchor="end" transform="translate(200.17 385.8) rotate(-45)">Kd1</text><text class="tk" text-anchor="end" transform="translate(215.46 385.8) rotate(-45)">Kd2</text><text class="tk" text-anchor="end" transform="translate(230.75 385.8) rotate(-45)">K_str</text><text class="tk" text-anchor="end" transform="translate(246.04 385.8) rotate(-45)">Pond_min</text><text class="tk" text-anchor="end" transform="translate(261.33 385.8) rotate(-45)">Mix</text><text class="ti" x="150.7" y="225.5" text-anchor="middle" style="font-size:7.45px">SUBSURFACE : volume difference between final and initial state (m<tspan class="sup" dy="-4">3</tspan><tspan dy="4">)</tspan></text><text class="xt" x="150.8" y="416" text-anchor="middle">Parameters</text><text class="yt" text-anchor="middle" transform="translate(13.6 305.8) rotate(-90)">First-order and total indices</text><line x1="305.6" x2="543.4" y1="344.42" y2="344.42" stroke="#f5f5f5" stroke-width="0.6"/><line x1="305.6" x2="543.4" y1="312.47" y2="312.47" stroke="#f5f5f5" stroke-width="0.6"/><line x1="305.6" x2="543.4" y1="280.52" y2="280.52" stroke="#f5f5f5" stroke-width="0.6"/><line x1="305.6" x2="543.4" y1="248.57" y2="248.57" stroke="#f5f5f5" stroke-width="0.6"/><line x1="305.6" x2="543.4" y1="360.4" y2="360.4" stroke="#f1f1f1" stroke-width="0.8"/><line x1="305.6" x2="543.4" y1="328.45" y2="328.45" stroke="#f1f1f1" stroke-width="0.8"/><line x1="305.6" x2="543.4" y1="296.5" y2="296.5" stroke="#f1f1f1" stroke-width="0.8"/><line x1="305.6" x2="543.4" y1="264.55" y2="264.55" stroke="#f1f1f1" stroke-width="0.8"/><line x1="305.6" x2="543.4" y1="232.6" y2="232.6" stroke="#f1f1f1" stroke-width="0.8"/><line x1="314.99" x2="314.99" y1="229.3" y2="376.5" stroke="#f1f1f1" stroke-width="0.8"/><line x1="330.63" x2="330.63" y1="229.3" y2="376.5" stroke="#f1f1f1" stroke-width="0.8"/><line x1="346.28" x2="346.28" y1="229.3" y2="376.5" stroke="#f1f1f1" stroke-width="0.8"/><line x1="361.92" x2="361.92" y1="229.3" y2="376.5" stroke="#f1f1f1" stroke-width="0.8"/><line x1="377.57" x2="377.57" y1="229.3" y2="376.5" stroke="#f1f1f1" stroke-width="0.8"/><line x1="393.21" x2="393.21" y1="229.3" y2="376.5" stroke="#f1f1f1" stroke-width="0.8"/><line x1="408.86" x2="408.86" y1="229.3" y2="376.5" stroke="#f1f1f1" stroke-width="0.8"/><line x1="424.5" x2="424.5" y1="229.3" y2="376.5" stroke="#f1f1f1" stroke-width="0.8"/><line x1="440.14" x2="440.14" y1="229.3" y2="376.5" stroke="#f1f1f1" stroke-width="0.8"/><line x1="455.79" x2="455.79" y1="229.3" y2="376.5" stroke="#f1f1f1" stroke-width="0.8"/><line x1="471.43" x2="471.43" y1="229.3" y2="376.5" stroke="#f1f1f1" stroke-width="0.8"/><line x1="487.08" x2="487.08" y1="229.3" y2="376.5" stroke="#f1f1f1" stroke-width="0.8"/><line x1="502.72" x2="502.72" y1="229.3" y2="376.5" stroke="#f1f1f1" stroke-width="0.8"/><line x1="518.37" x2="518.37" y1="229.3" y2="376.5" stroke="#f1f1f1" stroke-width="0.8"/><line x1="534.01" x2="534.01" y1="229.3" y2="376.5" stroke="#f1f1f1" stroke-width="0.8"/><rect x="307.95" y="338.93" width="14.08" height="21.47" fill="#00BFC4"/><rect x="323.59" y="245.89" width="14.08" height="114.51" fill="#00BFC4"/><rect x="339.24" y="332.92" width="14.08" height="27.48" fill="#00BFC4"/><rect x="354.88" y="325.13" width="14.08" height="35.27" fill="#00BFC4"/><rect x="370.53" y="322.32" width="14.08" height="38.08" fill="#00BFC4"/><rect x="386.17" y="335.73" width="14.08" height="24.67" fill="#00BFC4"/><rect x="401.82" y="328.19" width="14.08" height="32.21" fill="#00BFC4"/><rect x="417.46" y="338.93" width="14.08" height="21.47" fill="#00BFC4"/><rect x="433.1" y="331.26" width="14.08" height="29.14" fill="#00BFC4"/><rect x="448.75" y="339.82" width="14.08" height="20.58" fill="#00BFC4"/><rect x="464.39" y="359.38" width="14.08" height="1.66" fill="#00BFC4"/><rect x="480.04" y="359.38" width="14.08" height="1.66" fill="#00BFC4"/><rect x="495.68" y="348" width="14.08" height="12.4" fill="#00BFC4"/><rect x="511.33" y="358.87" width="14.08" height="1.53" fill="#00BFC4"/><rect x="526.97" y="331.64" width="14.08" height="28.75" fill="#00BFC4"/><rect x="307.95" y="360.4" width="14.08" height="1.66" fill="#F8766D"/><rect x="323.59" y="295.48" width="14.08" height="64.92" fill="#F8766D"/><rect x="339.24" y="359.76" width="14.08" height="0.64" fill="#F8766D"/><rect x="354.88" y="357.84" width="14.08" height="2.56" fill="#F8766D"/><rect x="370.53" y="359.12" width="14.08" height="1.28" fill="#F8766D"/><rect x="386.17" y="359.76" width="14.08" height="0.64" fill="#F8766D"/><rect x="401.82" y="360.4" width="14.08" height="1.28" fill="#F8766D"/><rect x="417.46" y="357.46" width="14.08" height="2.94" fill="#F8766D"/><rect x="464.39" y="359.38" width="14.08" height="1.66" fill="#F8766D"/><rect x="480.04" y="359.38" width="14.08" height="1.66" fill="#F8766D"/><rect x="495.68" y="360.4" width="14.08" height="1.92" fill="#F8766D"/><rect x="511.33" y="358.61" width="14.08" height="1.92" fill="#F8766D"/><rect x="526.97" y="360.4" width="14.08" height="1.28" fill="#F8766D"/><line x1="303.3" x2="305.6" y1="360.4" y2="360.4" stroke="#444" stroke-width="0.8"/><line x1="303.3" x2="305.6" y1="328.45" y2="328.45" stroke="#444" stroke-width="0.8"/><line x1="303.3" x2="305.6" y1="296.5" y2="296.5" stroke="#444" stroke-width="0.8"/><line x1="303.3" x2="305.6" y1="264.55" y2="264.55" stroke="#444" stroke-width="0.8"/><line x1="303.3" x2="305.6" y1="232.6" y2="232.6" stroke="#444" stroke-width="0.8"/><line x1="314.99" x2="314.99" y1="376.5" y2="378.8" stroke="#444" stroke-width="0.8"/><line x1="330.63" x2="330.63" y1="376.5" y2="378.8" stroke="#444" stroke-width="0.8"/><line x1="346.28" x2="346.28" y1="376.5" y2="378.8" stroke="#444" stroke-width="0.8"/><line x1="361.92" x2="361.92" y1="376.5" y2="378.8" stroke="#444" stroke-width="0.8"/><line x1="377.57" x2="377.57" y1="376.5" y2="378.8" stroke="#444" stroke-width="0.8"/><line x1="393.21" x2="393.21" y1="376.5" y2="378.8" stroke="#444" stroke-width="0.8"/><line x1="408.86" x2="408.86" y1="376.5" y2="378.8" stroke="#444" stroke-width="0.8"/><line x1="424.5" x2="424.5" y1="376.5" y2="378.8" stroke="#444" stroke-width="0.8"/><line x1="440.14" x2="440.14" y1="376.5" y2="378.8" stroke="#444" stroke-width="0.8"/><line x1="455.79" x2="455.79" y1="376.5" y2="378.8" stroke="#444" stroke-width="0.8"/><line x1="471.43" x2="471.43" y1="376.5" y2="378.8" stroke="#444" stroke-width="0.8"/><line x1="487.08" x2="487.08" y1="376.5" y2="378.8" stroke="#444" stroke-width="0.8"/><line x1="502.72" x2="502.72" y1="376.5" y2="378.8" stroke="#444" stroke-width="0.8"/><line x1="518.37" x2="518.37" y1="376.5" y2="378.8" stroke="#444" stroke-width="0.8"/><line x1="534.01" x2="534.01" y1="376.5" y2="378.8" stroke="#444" stroke-width="0.8"/><g stroke="#3a3a3a" stroke-width="0.8"><path d="M313.49 331.9H316.49M314.99 331.9V348.26M313.49 348.26H316.49"/><path d="M313.49 355.16H316.49M314.99 355.16V369.86M313.49 369.86H316.49"/><path d="M329.13 235.79H332.13M330.63 235.79V254.33M329.13 254.33H332.13"/><path d="M329.13 284.23H332.13M330.63 284.23V304.81M329.13 304.81H332.13"/><path d="M344.78 324.36H347.78M346.28 324.36V342.76M344.78 342.76H347.78"/><path d="M344.78 351.33H347.78M346.28 351.33V368.32M344.78 368.32H347.78"/><path d="M360.42 316.18H363.42M361.92 316.18V334.58M360.42 334.58H363.42"/><path d="M360.42 348.9H363.42M361.92 348.9V366.53M360.42 366.53H363.42"/><path d="M376.07 312.35H379.07M377.57 312.35V332.28M376.07 332.28H379.07"/><path d="M376.07 351.33H379.07M377.57 351.33V368.32M376.07 368.32H379.07"/><path d="M391.71 328.19H394.71M393.21 328.19V344.68M391.71 344.68H394.71"/><path d="M391.71 351.33H394.71M393.21 351.33V367.56M391.71 367.56H394.71"/><path d="M407.36 318.99H410.36M408.86 318.99V338.55M407.36 338.55H410.36"/><path d="M407.36 354.65H410.36M408.86 354.65V370.24M407.36 370.24H410.36"/><path d="M423 331.26H426M424.5 331.26V348.51M423 348.51H426"/><path d="M423 348.51H426M424.5 348.51V366.53M423 366.53H426"/><path d="M438.64 322.32H441.64M440.14 322.32V341.49M438.64 341.49H441.64"/><path d="M438.64 354.65H441.64M440.14 354.65V368.32M438.64 368.32H441.64"/><path d="M454.29 333.18H457.29M455.79 333.18V348.51M454.29 348.51H457.29"/><path d="M454.29 352.35H457.29M455.79 352.35V368.83M454.29 368.83H457.29"/><path d="M469.93 351.71H472.93M471.43 351.71V367.43M469.93 367.43H472.93"/><path d="M469.93 351.71H472.93M471.43 351.71V367.43M469.93 367.43H472.93"/><path d="M485.58 351.71H488.58M487.08 351.71V367.43M485.58 367.43H488.58"/><path d="M485.58 351.71H488.58M487.08 351.71V367.43M485.58 367.43H488.58"/><path d="M501.22 342.12H504.22M502.72 342.12V354.01M501.22 354.01H504.22"/><path d="M501.22 355.93H504.22M502.72 355.93V369.98M501.22 369.98H504.22"/><path d="M516.87 351.71H519.87M518.37 351.71V362.7M516.87 362.7H519.87"/><path d="M516.87 356.82H519.87M518.37 356.82V367.43M516.87 367.43H519.87"/><path d="M532.51 322.32H535.51M534.01 322.32V341.1M532.51 341.1H535.51"/><path d="M532.51 355.29H535.51M534.01 355.29V369.35M532.51 369.35H535.51"/></g><rect x="305.6" y="229.3" width="237.8" height="147.2" fill="none" stroke="#bebebe" stroke-width="0.9"/><text class="tk" x="301.4" y="363.3" text-anchor="end">0.00</text><text class="tk" x="301.4" y="331.35" text-anchor="end">0.25</text><text class="tk" x="301.4" y="299.4" text-anchor="end">0.50</text><text class="tk" x="301.4" y="267.45" text-anchor="end">0.75</text><text class="tk" x="301.4" y="235.5" text-anchor="end">1.00</text><text class="tk" text-anchor="end" transform="translate(318.49 385.8) rotate(-45)">Ks1</text><text class="tk" text-anchor="end" transform="translate(334.13 385.8) rotate(-45)">Ks2</text><text class="tk" text-anchor="end" transform="translate(349.78 385.8) rotate(-45)">θ<tspan style="font-size:6.2px">s</tspan>1</text><text class="tk" text-anchor="end" transform="translate(365.42 385.8) rotate(-45)">θ<tspan style="font-size:6.2px">s</tspan>2</text><text class="tk" text-anchor="end" transform="translate(381.07 385.8) rotate(-45)">θ<tspan style="font-size:6.6px">r</tspan></text><text class="tk" text-anchor="end" transform="translate(396.71 385.8) rotate(-45)">n1</text><text class="tk" text-anchor="end" transform="translate(412.36 385.8) rotate(-45)">n2</text><text class="tk" text-anchor="end" transform="translate(428 385.8) rotate(-45)">α1</text><text class="tk" text-anchor="end" transform="translate(443.64 385.8) rotate(-45)">α2</text><text class="tk" text-anchor="end" transform="translate(459.29 385.8) rotate(-45)">GWi</text><text class="tk" text-anchor="end" transform="translate(474.93 385.8) rotate(-45)">Kd1</text><text class="tk" text-anchor="end" transform="translate(490.58 385.8) rotate(-45)">Kd2</text><text class="tk" text-anchor="end" transform="translate(506.22 385.8) rotate(-45)">K_str</text><text class="tk" text-anchor="end" transform="translate(521.87 385.8) rotate(-45)">Pond_min</text><text class="tk" text-anchor="end" transform="translate(537.51 385.8) rotate(-45)">Mix</text><text class="ti" x="424.5" y="225.7" text-anchor="middle" style="font-size:7.6px">SURFACE : cumulative surface runoff between V and VFS&#160;&#160;&#160;(m<tspan class="sup" dy="-4">3</tspan><tspan dy="4">)</tspan></text><text class="xt" x="424.5" y="416" text-anchor="middle">Parameters</text><text class="yt" text-anchor="middle" transform="translate(284.6 305.8) rotate(-90)">First-order and total indices</text>
</svg></body></html>
